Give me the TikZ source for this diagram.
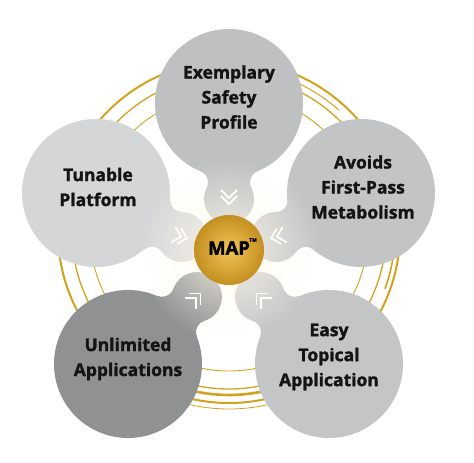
\documentclass[tikz,border=0pt]{standalone}
\usepackage{fontspec}
\setmainfont{Open Sans}[BoldFeatures={FakeBold=1.6}]
\usetikzlibrary{fadings}

\definecolor{ringgold}{HTML}{D2A11E}
\definecolor{topgray}{HTML}{BFC0C2}
\definecolor{rightgray}{HTML}{C3C4C6}
\definecolor{leftgray}{HTML}{D5D6D8}
\definecolor{blgray}{HTML}{909193}
\definecolor{brgray}{HTML}{C4C5C7}
\definecolor{goldlight}{HTML}{F0C454}
\definecolor{golddark}{HTML}{C48F22}
\definecolor{glowcol}{HTML}{FFFAEA}

\tikzfading[name=glowfade, inner color=transparent!15, outer color=transparent!100]

\tikzset{
  bubble/.style={circle, minimum size=148pt, inner sep=0pt},
  knob/.style={circle, minimum size=50pt, inner sep=0pt},
  caption/.style={align=center, font=\fontsize{17.5}{25}\selectfont\bfseries, text=black!92},
  chev/.style={white, line width=1.8pt, line join=miter},
}

\begin{document}
\begin{tikzpicture}[x=1pt,y=1pt]
\useasboundingbox (0,0) rectangle (474,463);

% gold ring behind the petals
\draw[ringgold, line width=2pt] (229,231) circle (171);
\draw[ringgold, line width=1.3pt] (229,231) circle (157);
\draw[ringgold, line width=0.9pt] (229,231) circle (139);
\draw[ringgold, line width=2.6pt] (229,231) ++(240:163) arc[start angle=240, end angle=300, radius=163];
\draw[ringgold, line width=0.8pt] (229,231) ++(248:177) arc[start angle=248, end angle=292, radius=177];
\draw[ringgold, line width=1pt] (229,231) ++(48:164) arc[start angle=48, end angle=68, radius=164];
\draw[ringgold, line width=1.6pt] (229,231) ++(-20:166) arc[start angle=-20, end angle=5, radius=166];

% necks between knob and bubble
\foreach \kx/\ky/\ang/\col in {229/264/90/topgray, 276/226/27/rightgray, 182/226/153/leftgray, 197/166/224/blgray, 260/166/316/brgray}{
  \fill[\col, shift={(\kx,\ky)}, rotate=\ang] (11.2,22.3) arc[start angle=243.3, end angle=337.5, radius=12]
    -- (27.7,-28.5) arc[start angle=22.5, end angle=116.7, radius=12] -- cycle;
}

% knobs
\node[knob, fill=topgray] (ktop) at (229,264) {};
\node[knob, fill=rightgray] (kright) at (276,226) {};
\node[knob, fill=leftgray] (kleft) at (182,226) {};
\node[knob, fill=blgray] (kbl) at (197,166) {};
\node[knob, fill=brgray] (kbr) at (260,166) {};

% bubbles
\node[bubble, fill=topgray] (safety) at (229,360) {};
\node[bubble, fill=rightgray] (avoids) at (361,270) {};
\node[bubble, fill=leftgray] (tunable) at (96,270) {};
\node[bubble, fill=blgray] (unlimited) at (128,99) {};
\node[bubble, fill=brgray] (easy) at (329,99) {};

\node[caption] (t-safety) at ([yshift=6]safety.center) {Exemplary\\Safety\\Profile};
\node[caption] (t-avoids) at ([xshift=2,yshift=6]avoids.center) {Avoids\\First-Pass\\Metabolism};
\node[caption] (t-tunable) at ([xshift=2,yshift=6]tunable.center) {Tunable\\Platform};
\node[caption] (t-unlimited) at ([yshift=5]unlimited.center) {Unlimited\\Applications};
\node[caption] (t-easy) at ([yshift=7]easy.center) {Easy\\Topical\\Application};

% chevrons on the knobs
\foreach \k/\ang in {ktop/270, kright/195, kleft/345, kbl/45, kbr/135}{
  \begin{scope}[shift={(\k.center)}, rotate=\ang]
    \draw[chev] (-3,8) -- (5,0) -- (-3,-8);
    \draw[chev] (-9,8) -- (-1,0) -- (-9,-8);
  \end{scope}
}

% glow and centre
\fill[glowcol, path fading=glowfade] (229,213) circle (92);
\node[circle, minimum size=70pt, inner sep=0pt, inner color=goldlight, outer color=golddark] (map) at (229,213) {};
\node[font=\fontsize{18.5}{18}\selectfont\bfseries] (t-map) at ([yshift=2]map.center) {MAP};
\node[font=\fontsize{5}{5}\selectfont\bfseries, inner sep=0pt] (t-tm) at ([xshift=24,yshift=10]map.center) {TM};
\end{tikzpicture}
\end{document}
